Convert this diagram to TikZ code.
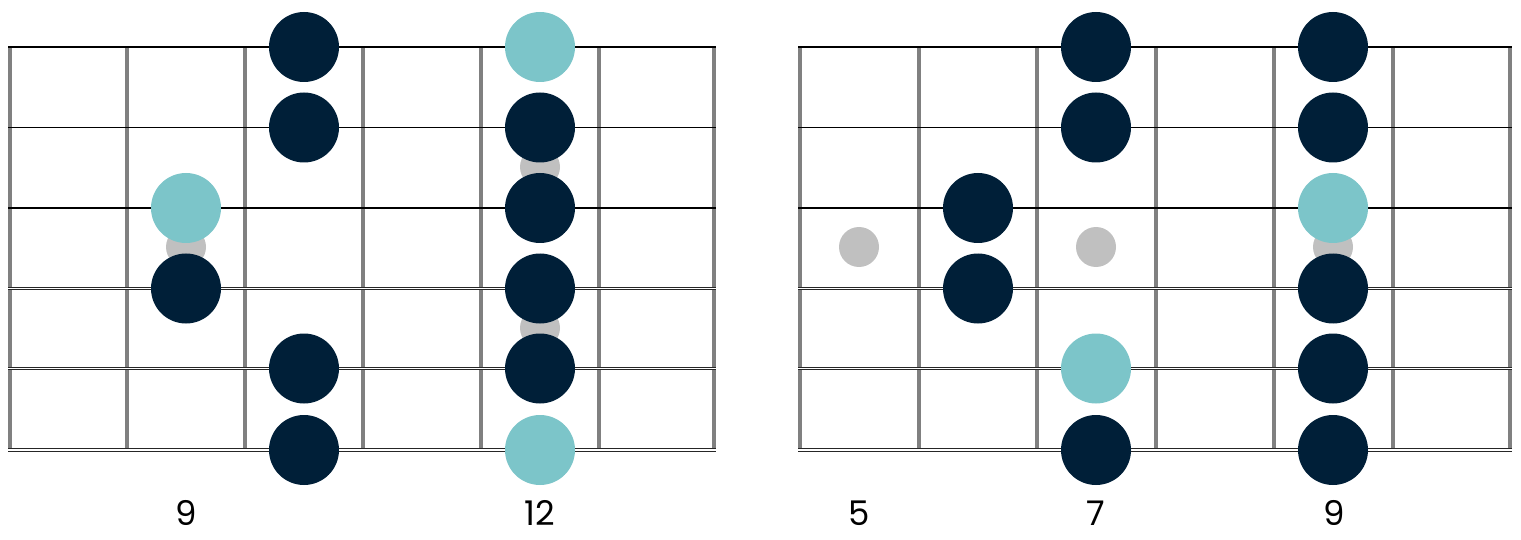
\documentclass[tikz,border=0pt]{standalone}
\usepackage{fontspec}
\setmainfont{Poppins}
\definecolor{navy}{HTML}{001F38}
\definecolor{teal}{HTML}{7CC5C9}
\definecolor{lightgray}{HTML}{C0C0C0}
\definecolor{fretgray}{HTML}{808080}
\tikzset{
  fretbar/.style={draw=fretgray, line width=4pt},
  thinstring/.style={draw=black, line width=1.3pt},
  thickstring/.style={draw=black!85, line width=1pt, double=white, double distance=1.8pt},
  bigdot/.style={circle, inner sep=0pt, minimum size=70pt},
  rootdot/.style={bigdot, fill=teal},
  notedot/.style={bigdot, fill=navy},
  marker/.style={circle, inner sep=0pt, minimum size=40pt, fill=lightgray},
  fretnum/.style={font=\fontsize{34pt}{36pt}\selectfont, text=black}
}
\begin{document}
\begin{tikzpicture}[x=1pt,y=-1pt]
\useasboundingbox (0,0) rectangle (1521,540);
% ---------- left neck ----------
\foreach \x in {10,127.3,244.7,362.5,481,598.5,714}
  \draw[fretbar] (\x,47) -- (\x,450);
\foreach \y in {47,127.5,208}
  \draw[thinstring] (8,\y) -- (716,\y);
\foreach \y in {288.5,368.5,450}
  \draw[thickstring] (8,\y) -- (716,\y);
% ---------- right neck ----------
\foreach \x in {800,918.5,1037,1155.5,1274,1392.5,1509.5}
  \draw[fretbar] (\x,47) -- (\x,450);
\foreach \y in {47,127.5,208}
  \draw[thinstring] (798,\y) -- (1511.5,\y);
\foreach \y in {288.5,368.5,450}
  \draw[thickstring] (798,\y) -- (1511.5,\y);
% ---------- position markers ----------
\node[marker] (lm1) at (540,167) {};
\node[marker] (lm2) at (186,247) {};
\node[marker] (lm3) at (540,328) {};
\node[marker] (rm1) at (859,247) {};
\node[marker] (rm2) at (1096,247) {};
\node[marker] (rm3) at (1333,247) {};
% ---------- left dots ----------
\node[notedot] (la1) at (304,47) {};
\node[rootdot] (lb1) at (540,47) {};
\node[notedot] (la2) at (304,127.5) {};
\node[notedot] (lb2) at (540,127.5) {};
\node[rootdot] (la3) at (186,208) {};
\node[notedot] (lb3) at (540,208) {};
\node[notedot] (la4) at (186,288.5) {};
\node[notedot] (lb4) at (540,288.5) {};
\node[notedot] (la5) at (304,368.5) {};
\node[notedot] (lb5) at (540,368.5) {};
\node[notedot] (la6) at (304,450) {};
\node[rootdot] (lb6) at (540,450) {};
% ---------- right dots ----------
\node[notedot] (ra1) at (1096,47) {};
\node[notedot] (rb1) at (1333,47) {};
\node[notedot] (ra2) at (1096,127.5) {};
\node[notedot] (rb2) at (1333,127.5) {};
\node[notedot] (ra3) at (978,208) {};
\node[rootdot] (rb3) at (1333,208) {};
\node[notedot] (ra4) at (978,288.5) {};
\node[notedot] (rb4) at (1333,288.5) {};
\node[rootdot] (ra5) at (1096,368.5) {};
\node[notedot] (rb5) at (1333,368.5) {};
\node[notedot] (ra6) at (1096,450) {};
\node[notedot] (rb6) at (1333,450) {};
% ---------- fret numbers ----------
\node[fretnum] (n9l) at (186,513) {9};
\node[fretnum] (n12) at (540,513) {12};
\node[fretnum] (n5) at (859,513) {5};
\node[fretnum] (n7) at (1096,513) {7};
\node[fretnum] (n9r) at (1334,513) {9};
\end{tikzpicture}
\end{document}
